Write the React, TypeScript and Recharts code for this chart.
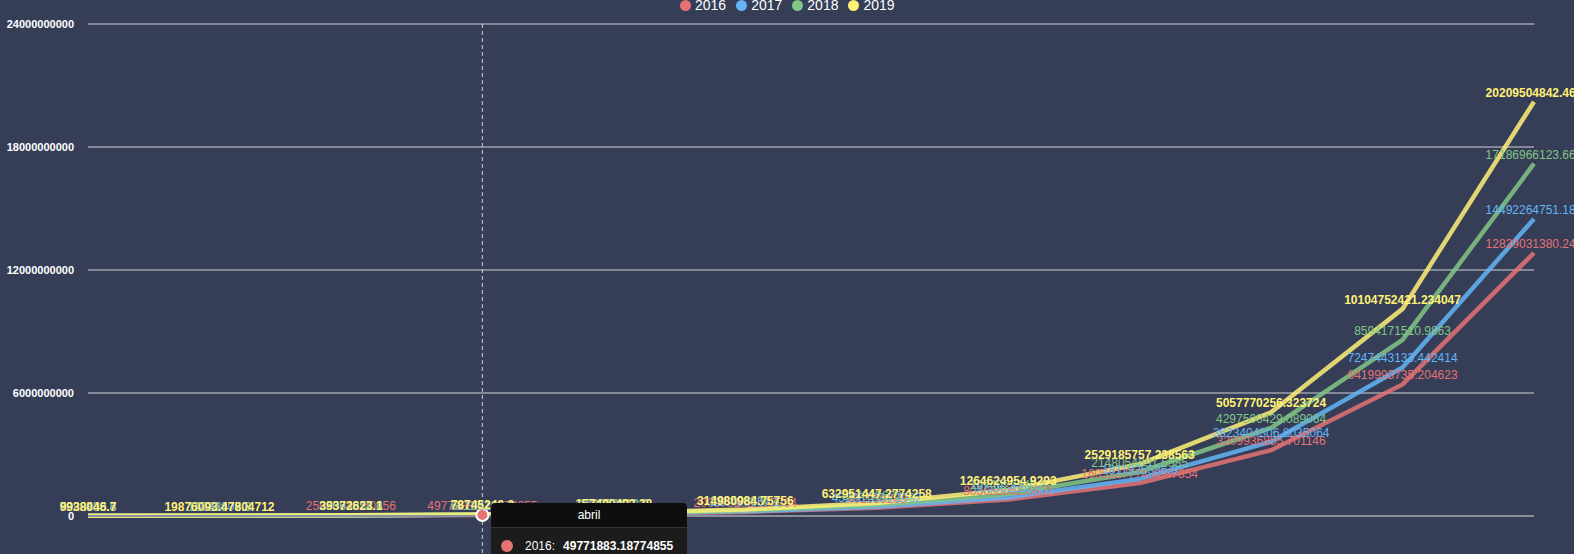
import React from "react";
import {
  LineChart, Line, XAxis, YAxis, CartesianGrid, Tooltip, Legend, LabelList,
} from "recharts";

const months = [
  "enero", "febrero", "marzo", "abril", "mayo", "junio",
  "julio", "agosto", "septiembre", "octubre", "noviembre", "diciembre",
];

const v2016 = [
  6222735.4, 12443470.3, 25050343.50456, 49771883.18774855, 99543766.4, 200979102.497794,
  401958263.0, 803035052.0601, 1605227774.4867853, 3209936855.701146, 6419993735.204623, 12839031380.247,
];
const v2017 = [
  7023403.3, 14046806.6, 28093613.2, 56187226.4, 112374452.8, 226490667.1,
  452981334.2092, 905962668.4, 1811925336.9, 3623404306.8035064, 7247443133.442414, 14492264751.187,
];
const v2018 = [
  8390838.6, 16781677.3, 33563354.6, 67126709.1, 134253418.2, 268506836.4,
  537013672.9, 1074027345.8, 2148054691.5585, 4297500429.089064, 8594171510.986299, 17186966123.667,
];
const v2019 = [
  9938046.7, 19876093.47804712, 39372623.1, 78745246.2, 157490492.38, 314980984.75756003,
  632951447.2774258, 1264624954.9293, 2529185757.2385629, 5057770256.323724, 10104752421.234047, 20209504842.468,
];

const yTicks = [0, 6000000000, 12000000000, 18000000000, 24000000000];

const series = [
  { key: "y2016", name: "2016", color: "#e57373", bold: false },
  { key: "y2017", name: "2017", color: "#64b5f6", bold: false },
  { key: "y2018", name: "2018", color: "#81c784", bold: false },
  { key: "y2019", name: "2019", color: "#fff176", bold: true },
];

const data = months.map((m, i) => ({
  month: m,
  y2016: v2016[i],
  y2017: v2017[i],
  y2018: v2018[i],
  y2019: v2019[i],
}));

function LegendContent({ payload }: any) {
  return (
    <div style={{ display: "flex", alignItems: "center" }}>
      {(payload || []).map((p: any) => (
        <div key={p.value} style={{ display: "flex", alignItems: "center", marginRight: 10 }}>
          <span
            style={{
              width: 11, height: 11, borderRadius: "50%", background: p.color,
              display: "inline-block", marginRight: 4,
            }}
          />
          <span style={{ color: "#fff", fontSize: 14, lineHeight: "14px" }}>{p.value}</span>
        </div>
      ))}
    </div>
  );
}

function CursorLine(props: any) {
  const pts = props.points;
  if (!pts || !pts.length) return null;
  return (
    <line
      x1={pts[0].x} y1={pts[0].y} x2={pts[0].x} y2={554}
      stroke="#d0d0d0" strokeWidth={1} strokeDasharray="4 3"
    />
  );
}

function TipContent({ active, payload, label }: any) {
  if (!active || !payload) return null;
  const item = payload.find((p: any) => p.dataKey === "y2016");
  if (!item) return null;
  return (
    <div style={{ width: 196, borderRadius: "4px 4px 0 0", overflow: "hidden", fontSize: 12, color: "#fff" }}>
      <div style={{ background: "#0e0e0e", height: 24, lineHeight: "24px", textAlign: "center", borderBottom: "1px solid #333" }}>
        {label}
      </div>
      <div style={{ background: "#1c1c1c", height: 36, display: "flex", alignItems: "center", paddingLeft: 10 }}>
        <span style={{ width: 12, height: 12, borderRadius: "50%", background: "#e57373", display: "inline-block", marginRight: 12 }} />
        <span style={{ marginRight: 8 }}>2016:</span>
        <span style={{ fontWeight: "bold" }}>{String(item.value)}</span>
      </div>
    </div>
  );
}

export default function App() {
  return (
    <div
      style={{
        position: "absolute", left: 0, top: 0, width: 1574, height: 554,
        background: "#353d57", fontFamily: "'Liberation Sans', Arial, sans-serif",
      }}
    >
      <LineChart width={1574} height={554} data={data} margin={{ top: 24, right: 40, bottom: 0, left: 0 }}>
        <CartesianGrid vertical={false} stroke="#d2d2d6" />
        <XAxis dataKey="month" tick={false} tickLine={false} height={38} axisLine={{ stroke: "#8a8f9c", strokeWidth: 2 }} />
        <YAxis
          width={88}
          domain={[0, 24000000000]}
          ticks={yTicks}
          axisLine={false}
          tickLine={false}
          tickMargin={8}
          tick={{ fill: "#fff", fontSize: 11, fontWeight: "bold" }}
        />
        <Legend
          verticalAlign="middle"
          align="center"
          layout="horizontal"
          wrapperStyle={{ top: -2, left: 680, width: 230 }}
          content={<LegendContent />}
        />
        <Tooltip
          defaultIndex={3}
          position={{ x: 491, y: 503 }}
          cursor={<CursorLine />}
          content={<TipContent />}
          isAnimationActive={false}
          wrapperStyle={{ outline: "none" }}
        />
        {series.map((s) => (
          <Line
            key={s.key}
            type="linear"
            dataKey={s.key}
            name={s.name}
            stroke={s.color}
            strokeOpacity={0.85}
            strokeWidth={4.5}
            dot={false}
            activeDot={s.key === "y2016" ? { r: 6, fill: "#e57373", stroke: "#fff", strokeWidth: 2 } : false}
            isAnimationActive={false}
          >
            <LabelList
              dataKey={s.key}
              position="top"
              fill={s.color}
              fontSize={12}
              fontWeight={s.bold ? "bold" : "normal"}
            />
          </Line>
        ))}
      </LineChart>
    </div>
  );
}
